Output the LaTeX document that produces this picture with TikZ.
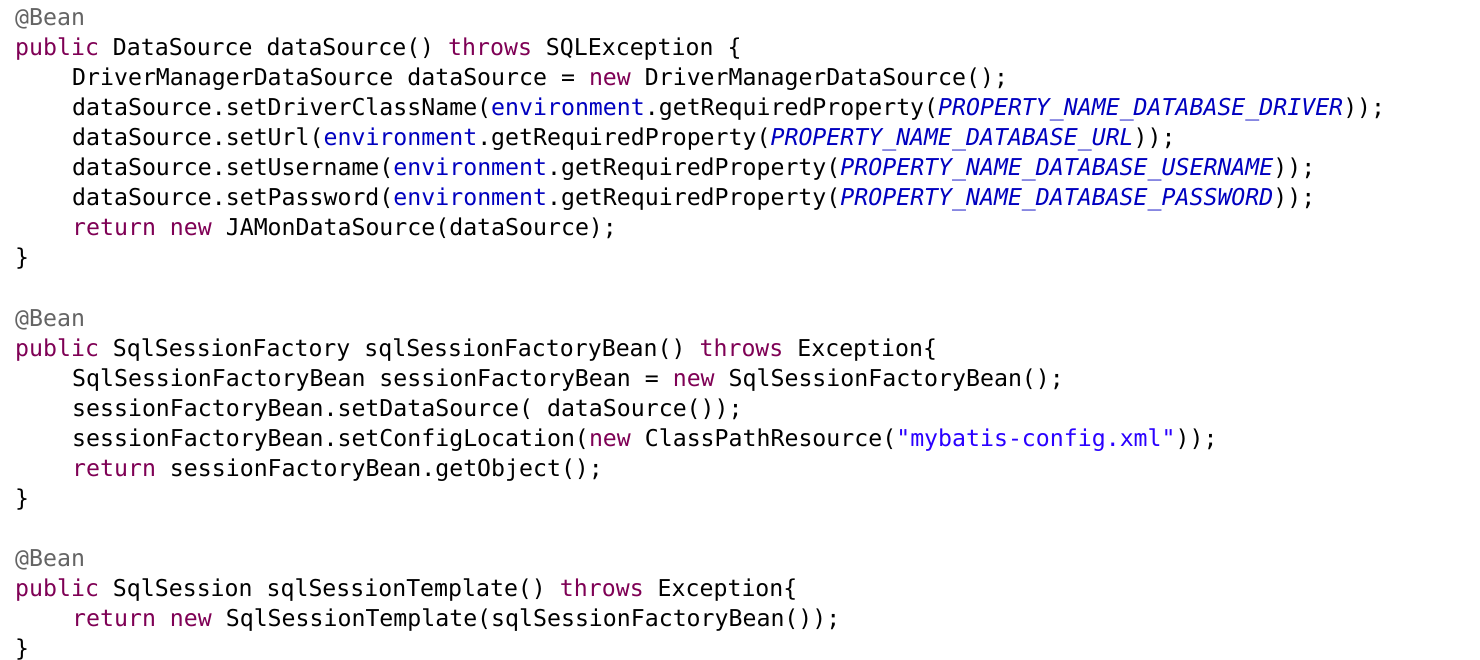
\documentclass[tikz,border=0pt]{standalone}
\usepackage{fontspec}
\setmonofont{DejaVu Sans Mono}
\definecolor{ann}{HTML}{646464}
\definecolor{kw}{HTML}{7F0055}
\definecolor{fld}{HTML}{0000C0}
\definecolor{str}{HTML}{2A00FF}
\newcommand{\K}[1]{\textcolor{kw}{#1}}
\newcommand{\F}[1]{\textcolor{fld}{#1}}
\newcommand{\C}[1]{\textcolor{fld}{\itshape #1}}
\newcommand{\A}[1]{\textcolor{ann}{#1}}
\newcommand{\Sq}[1]{\textcolor{str}{#1}}
\begin{document}
\begin{tikzpicture}[x=1pt,y=1pt,
  code/.style={anchor=base west,inner sep=0pt,font=\ttfamily\fontsize{23.2}{30}\selectfont,text=black}]
\useasboundingbox (0,0) rectangle (1480,-660);
\fill[white] (0,0) rectangle (1480,-660);
\def\xa{15}\def\xb{72}
\node[code] (l1) at (\xa,-26) {\A{@Bean}};
\node[code] (l2) at (\xa,-56) {\K{public} DataSource dataSource() \K{throws} SQLException \{};
\node[code] (l3) at (\xb,-86) {DriverManagerDataSource dataSource = \K{new} DriverManagerDataSource();};
\node[code] (l4) at (\xb,-116) {dataSource.setDriverClassName(\F{environment}.getRequiredProperty(\C{PROPERTY\_NAME\_DATABASE\_DRIVER}));};
\node[code] (l5) at (\xb,-146) {dataSource.setUrl(\F{environment}.getRequiredProperty(\C{PROPERTY\_NAME\_DATABASE\_URL}));};
\node[code] (l6) at (\xb,-176) {dataSource.setUsername(\F{environment}.getRequiredProperty(\C{PROPERTY\_NAME\_DATABASE\_USERNAME}));};
\node[code] (l7) at (\xb,-206) {dataSource.setPassword(\F{environment}.getRequiredProperty(\C{PROPERTY\_NAME\_DATABASE\_PASSWORD}));};
\node[code] (l8) at (\xb,-236) {\K{return} \K{new} JAMonDataSource(dataSource);};
\node[code] (l9) at (\xa,-266) {\}};
\node[code] (l11) at (\xa,-326) {\A{@Bean}};
\node[code] (l12) at (\xa,-356) {\K{public} SqlSessionFactory sqlSessionFactoryBean() \K{throws} Exception\{};
\node[code] (l13) at (\xb,-386) {SqlSessionFactoryBean sessionFactoryBean = \K{new} SqlSessionFactoryBean();};
\node[code] (l14) at (\xb,-416) {sessionFactoryBean.setDataSource( dataSource());};
\node[code] (l15) at (\xb,-446) {sessionFactoryBean.setConfigLocation(\K{new} ClassPathResource(\Sq{"mybatis-config.xml"}));};
\node[code] (l16) at (\xb,-476) {\K{return} sessionFactoryBean.getObject();};
\node[code] (l17) at (\xa,-506) {\}};
\node[code] (l19) at (\xa,-566) {\A{@Bean}};
\node[code] (l20) at (\xa,-596) {\K{public} SqlSession sqlSessionTemplate() \K{throws} Exception\{};
\node[code] (l21) at (\xb,-626) {\K{return} \K{new} SqlSessionTemplate(sqlSessionFactoryBean());};
\node[code] (l22) at (\xa,-656) {\}};
\end{tikzpicture}
\end{document}
